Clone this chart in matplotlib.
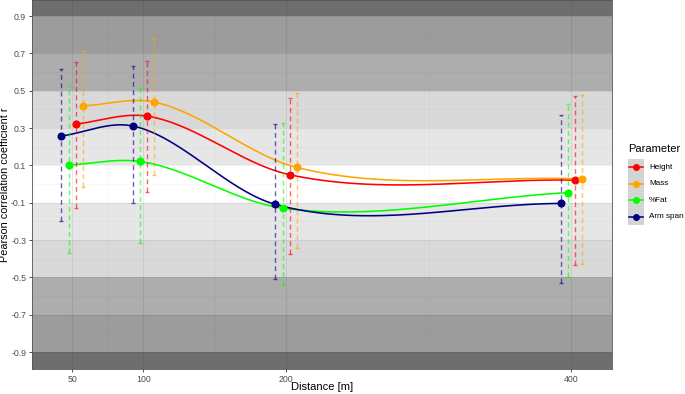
import numpy as np
import matplotlib
matplotlib.use("Agg")
import matplotlib.pyplot as plt
from matplotlib.lines import Line2D
from matplotlib.patches import Rectangle

plt.rcParams['font.family'] = ['Liberation Sans', 'DejaVu Sans']

# ---- data ----
distances = [50, 100, 200, 400]
params = ["Height", "Mass", "%Fat", "Arm span"]
colors = ["#FF0000", "#FFA500", "#00FF00", "#000080"]

r_height = [0.321, 0.364, 0.050, 0.021]
lo_height = [-0.127, -0.041, -0.375, -0.436]
hi_height = [0.655, 0.661, 0.459, 0.471]

r_mass = [0.418, 0.439, 0.089, 0.027]
lo_mass = [-0.014, 0.048, -0.341, -0.430]
hi_mass = [0.714, 0.782, 0.489, 0.475]

r_fat = [0.102, 0.121, -0.129, -0.046]
lo_fat = [-0.371, -0.314, -0.539, -0.500]
hi_fat = [0.525, 0.513, 0.328, 0.427]

r_arm = [0.257, 0.311, -0.109, -0.104]
lo_arm = [-0.197, -0.104, -0.511, -0.529]
hi_arm = [0.614, 0.634, 0.323, 0.368]

series_r = [r_height, r_mass, r_fat, r_arm]
series_lo = [lo_height, lo_mass, lo_fat, lo_arm]
series_hi = [hi_height, hi_mass, hi_fat, hi_arm]
dodge = [2.5, 7.5, -2.5, -7.5]

y_ticks = [-0.9, -0.7, -0.5, -0.3, -0.1, 0.1, 0.3, 0.5, 0.7, 0.9]
y_tick_labels = ["-0.9", "-0.7", "-0.5", "-0.3", "-0.1", "0.1", "0.3", "0.5", "0.7", "0.9"]


def hermite_curve(x, y, xs):
    """Finite-difference cubic Hermite spline through the points."""
    x = np.asarray(x, float); y = np.asarray(y, float)
    sec = np.diff(y) / np.diff(x)
    m = np.empty_like(y)
    m[0] = sec[0]; m[-1] = sec[-1]
    m[1:-1] = 0.5 * (sec[:-1] + sec[1:])
    out = np.empty_like(xs)
    for k, xv in enumerate(xs):
        i = min(max(np.searchsorted(x, xv) - 1, 0), len(x) - 2)
        h = x[i + 1] - x[i]
        t = (xv - x[i]) / h
        h00 = 2 * t**3 - 3 * t**2 + 1
        h10 = t**3 - 2 * t**2 + t
        h01 = -2 * t**3 + 3 * t**2
        h11 = t**3 - t**2
        out[k] = h00 * y[i] + h10 * h * m[i] + h01 * y[i + 1] + h11 * h * m[i + 1]
    return out


W, H = 685, 394
fig = plt.figure(figsize=(W / 100, H / 100), dpi=100)
ax = fig.add_axes([31.7 / W, 25 / H, (612 - 31.7) / W, 369 / H])

# background bands
bands = [(0.9, 1.2, "#6e6e6e"), (0.7, 0.9, "#9c9c9c"), (0.5, 0.7, "#adadad"),
         (0.3, 0.5, "#d9d9d9"), (0.1, 0.3, "#e6e6e6")]
for lo, hi, c in bands:
    ax.axhspan(lo, hi, color=c, lw=0, zorder=0)
    ax.axhspan(-hi, -lo, color=c, lw=0, zorder=0)

# grid lines (drawn subtly over bands)
for yv in y_ticks:
    ax.axhline(yv, color="black", alpha=0.06, lw=0.8, zorder=0.5)
for yv in [-0.8, -0.6, -0.4, -0.2, 0.0, 0.2, 0.4, 0.6, 0.8]:
    ax.axhline(yv, color="black", alpha=0.03, lw=0.5, zorder=0.5)
for xv in distances:
    ax.axvline(xv, color="black", alpha=0.07, lw=0.8, zorder=0.5)
for xv in [75, 150, 300]:
    ax.axvline(xv, color="black", alpha=0.03, lw=0.5, zorder=0.5)

for r, lo, hi, c, dx in zip(series_r, series_lo, series_hi, colors, dodge):
    xd = np.array(distances, float) + dx
    r = np.array(r); lo = np.array(lo); hi = np.array(hi)
    xs = np.linspace(xd[0], xd[-1], 400)
    ax.plot(xs, hermite_curve(xd, r, xs), color=c, lw=1.15, zorder=2)
    eb = ax.errorbar(xd, r, yerr=[r - lo, hi - r], fmt="none", ecolor=c,
                     elinewidth=1.0, capsize=1.6, capthick=1.0, alpha=0.6, zorder=3)
    eb[2][0].set_linestyle((0, (3.5, 2.5)))
    ax.plot(xd, r, "o", color=c, ms=4.8, zorder=4)

ax.set_xlim(21.7, 428.4)
ax.set_ylim(-0.991, 0.986)
ax.set_xticks(distances)
ax.set_xticklabels([str(d) for d in distances])
ax.set_yticks(y_ticks)
ax.set_yticklabels(y_tick_labels)
ax.tick_params(axis="both", labelsize=6.3, labelcolor="#4d4d4d", color="#333333",
               length=2.5, width=0.6, pad=1.5)
for s in ax.spines.values():
    s.set_color("#555555"); s.set_linewidth(0.6)
ax.set_xlabel("Distance [m]", fontsize=8)
ax.xaxis.set_label_coords(0.5, -0.035)
ax.set_ylabel("Pearson correlation coefficient r", fontsize=7.8)
ax.yaxis.set_label_coords(-0.0375, 0.5)

# legend
fx = lambda px: px / W
fy = lambda py: (H - py) / H
fig.text(fx(628), fy(149), "Parameter", fontsize=8, va="center", ha="left")
key_top, key_h = 159, 16.5
fig.add_artist(Rectangle((fx(628), fy(key_top + 4 * key_h)), fx(644) - fx(628),
                         fy(key_top) - fy(key_top + 4 * key_h),
                         transform=fig.transFigure, color="#d4d4d4", lw=0))
for i, (p, c) in enumerate(zip(params, colors)):
    yc = key_top + key_h * (i + 0.5)
    fig.add_artist(Line2D([fx(629), fx(643)], [fy(yc), fy(yc)], color=c, lw=1.15,
                          transform=fig.transFigure))
    fig.add_artist(Line2D([fx(636), fx(636)], [fy(yc - 2), fy(yc + 2)], color=c, lw=0.8,
                          alpha=0.6, transform=fig.transFigure))
    fig.add_artist(Line2D([fx(636)], [fy(yc)], marker="o", ms=4, color=c,
                          transform=fig.transFigure))
    fig.text(fx(649), fy(yc), p, fontsize=5.9, va="center", ha="left")

fig.savefig("out.png", dpi=100)
